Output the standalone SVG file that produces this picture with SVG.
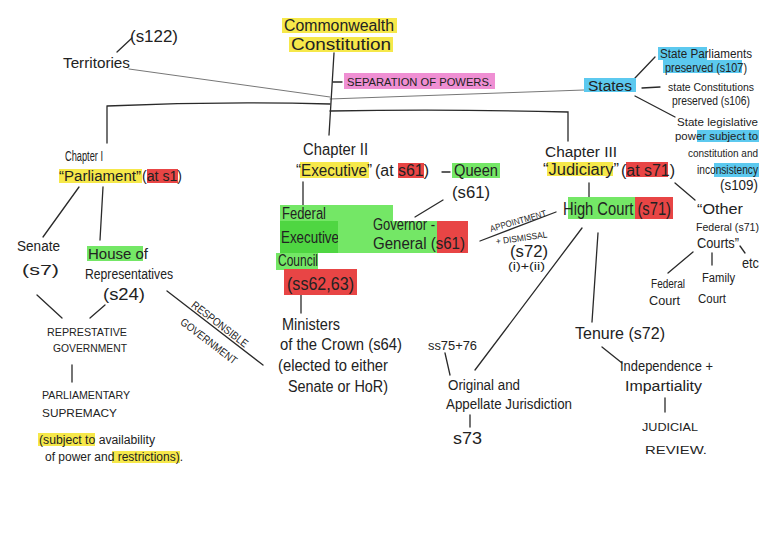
<svg xmlns="http://www.w3.org/2000/svg" width="768" height="542" viewBox="0 0 768 542">
<style>
.t{font-family:"Liberation Sans",Arial,sans-serif;font-size:14px;fill:#222}
.s{font-size:12px}
.c{font-size:11px}
.b{font-size:16px}
.hy{fill:#f6e84a}
.hr{fill:#e84545}
.hg{fill:#74e766}
.hd{fill:#4fd642}
.hb{fill:#5cc9ef}
.hp{fill:#ef8fd3}
#connectors path{fill:none;stroke:#2a2a2a;stroke-width:1.3;stroke-linecap:round}
#connectors path.f{stroke:#777;stroke-width:1}
</style>
<rect width="768" height="542" fill="#fff"/>
<g id="connectors">
<path d="M117,52 L132,38"/>
<path class="f" d="M129,69 L330,97"/>
<path class="f" d="M330,99 L584,90"/>
<path d="M334,53 L329,135"/>
<path d="M333,82 L342,82"/>
<path d="M107,143 L107,106 Q220,101 330,104"/>
<path d="M330,111 Q450,109 568,112 L568,141"/>
<path d="M635,78 L655,57"/>
<path d="M642,88 L660,87"/>
<path d="M635,96 L675,117"/>
<path d="M79,187 L43,237"/>
<path d="M103,187 L100,240"/>
<path d="M37,295 L62,318"/>
<path d="M105,305 L90,318"/>
<path d="M72,365 L72,382"/>
<path d="M167,291 L263,365"/>
<path d="M303,182 L303,208"/>
<path d="M442,172 L450,172"/>
<path d="M443,200 L415,217"/>
<path d="M340,246 L367,246"/>
<path d="M301,295 L301,313"/>
<path d="M589,183 L589,200"/>
<path d="M675,183 L695,200"/>
<path d="M480,241 L556,212"/>
<path d="M582,228 L475,370"/>
<path d="M598,233 L592,322"/>
<path d="M445,353 L450,375"/>
<path d="M470,415 L470,427"/>
<path d="M602,347 L622,363"/>
<path d="M665,398 L665,412"/>
<path d="M693,252 L668,273"/>
<path d="M712,253 L712,265"/>
<path d="M740,246 L745,253"/>
</g>
<g id="constitution">
<rect class="hy" x="282" y="18" width="115" height="15"/>
<rect class="hy" x="289" y="37" width="104" height="15"/>
<text class="t b" x="284" y="31" textLength="110" lengthAdjust="spacingAndGlyphs">Commonwealth</text>
<text class="t b" x="291" y="50" textLength="100" lengthAdjust="spacingAndGlyphs">Constitution</text>
</g>
<g id="separation">
<rect class="hp" x="344" y="73" width="151" height="16"/>
<text class="t c" x="347" y="86" textLength="145" lengthAdjust="spacingAndGlyphs">SEPARATION OF POWERS.</text>
</g>
<g id="territories">
<text class="t" x="63" y="68" textLength="67" lengthAdjust="spacingAndGlyphs">Territories</text>
<text class="t b" x="130" y="42" textLength="48" lengthAdjust="spacingAndGlyphs">(s122)</text>
</g>
<g id="states">
<rect class="hb" x="584" y="78" width="52" height="14"/>
<text class="t" x="588" y="91" textLength="44" lengthAdjust="spacingAndGlyphs">States</text>
</g>
<g id="state-parliaments">
<rect class="hb" x="658" y="47" width="49" height="13"/>
<rect class="hb" x="663" y="60" width="79" height="13"/>
<text class="t s" x="660" y="58" textLength="92" lengthAdjust="spacingAndGlyphs">State Parliaments</text>
<text class="t s" x="665" y="72" textLength="82" lengthAdjust="spacingAndGlyphs">preserved (s107)</text>
</g>
<g id="state-constitutions">
<text class="t" x="668" y="91" style="font-size:11.5px" textLength="86" lengthAdjust="spacingAndGlyphs">state Constitutions</text>
<text class="t s" x="672" y="105" textLength="78" lengthAdjust="spacingAndGlyphs">preserved (s106)</text>
</g>
<g id="state-legislative">
<rect class="hb" x="697" y="130" width="62" height="12"/>
<rect class="hb" x="714" y="163" width="45" height="14"/>
<text class="t" x="677" y="126" style="font-size:11.5px" textLength="81" lengthAdjust="spacingAndGlyphs">State legislative</text>
<text class="t" x="675" y="140" style="font-size:11.5px" textLength="83" lengthAdjust="spacingAndGlyphs">power subject to</text>
<text class="t" x="688" y="157" style="font-size:10.5px" textLength="70" lengthAdjust="spacingAndGlyphs">constitution and</text>
<text class="t s" x="697" y="174" textLength="61" lengthAdjust="spacingAndGlyphs">inconsistency</text>
<text class="t" x="720" y="190" textLength="38" lengthAdjust="spacingAndGlyphs">(s109)</text>
</g>
<g id="chapter1">
<rect class="hy" x="59" y="169" width="83" height="14"/>
<rect class="hr" x="147" y="169" width="31" height="14"/>
<text class="t" x="65" y="161" textLength="38" lengthAdjust="spacingAndGlyphs">Chapter I</text>
<text class="t" x="59" y="181" textLength="82" lengthAdjust="spacingAndGlyphs">“Parliament”</text>
<text class="t" x="142" y="181" textLength="40" lengthAdjust="spacingAndGlyphs">(at s1)</text>
</g>
<g id="senate">
<text class="t" x="17" y="251" textLength="43" lengthAdjust="spacingAndGlyphs">Senate</text>
<text class="t" x="22" y="275" textLength="37" lengthAdjust="spacingAndGlyphs">(s7)</text>
</g>
<g id="house">
<rect class="hg" x="87" y="246" width="56" height="15"/>
<text class="t" x="88" y="259" textLength="60" lengthAdjust="spacingAndGlyphs">House of</text>
<text class="t" x="85" y="279" textLength="88" lengthAdjust="spacingAndGlyphs">Representatives</text>
<text class="t b" x="103" y="300" textLength="42" lengthAdjust="spacingAndGlyphs">(s24)</text>
</g>
<g id="representative-government">
<text class="t c" x="47" y="336" textLength="80" lengthAdjust="spacingAndGlyphs">REPRESTATIVE</text>
<text class="t c" x="53" y="352" textLength="74" lengthAdjust="spacingAndGlyphs">GOVERNMENT</text>
</g>
<g id="parliamentary-supremacy">
<rect class="hy" x="38" y="433" width="57" height="13"/>
<rect class="hy" x="112" y="451" width="68" height="12"/>
<text class="t c" x="42" y="399" textLength="88" lengthAdjust="spacingAndGlyphs">PARLIAMENTARY</text>
<text class="t c" x="42" y="417" textLength="75" lengthAdjust="spacingAndGlyphs">SUPREMACY</text>
<text class="t s" x="39" y="444" textLength="116" lengthAdjust="spacingAndGlyphs">(subject to availability</text>
<text class="t s" x="45" y="461" textLength="138" lengthAdjust="spacingAndGlyphs">of power and restrictions).</text>
</g>
<g id="responsible-government">
<text class="t c" text-anchor="middle" transform="translate(220,324) rotate(37.6)" y="4" textLength="68" lengthAdjust="spacingAndGlyphs">RESPONSIBLE</text>
<text class="t c" text-anchor="middle" transform="translate(209,341) rotate(37.6)" y="4" textLength="68" lengthAdjust="spacingAndGlyphs">GOVERNMENT</text>
</g>
<g id="chapter2">
<rect class="hy" x="300" y="162" width="69" height="16"/>
<rect class="hr" x="398" y="163" width="26" height="15"/>
<text class="t b" x="303" y="155" textLength="65" lengthAdjust="spacingAndGlyphs">Chapter II</text>
<text class="t b" x="296" y="176" textLength="76" lengthAdjust="spacingAndGlyphs">“Executive”</text>
<text class="t b" x="375" y="176" textLength="54" lengthAdjust="spacingAndGlyphs">(at s61)</text>
</g>
<g id="queen">
<rect class="hg" x="452" y="163" width="48" height="15"/>
<text class="t b" x="454" y="176" textLength="44" lengthAdjust="spacingAndGlyphs">Queen</text>
<text class="t b" x="452" y="198" textLength="38" lengthAdjust="spacingAndGlyphs">(s61)</text>
</g>
<g id="federal-executive-council">
<rect class="hg" x="280" y="205" width="113" height="16"/>
<rect class="hd" x="280" y="221" width="58" height="32"/>
<rect class="hg" x="276" y="253" width="42" height="17"/>
<rect class="hr" x="284" y="269" width="73" height="26"/>
<text class="t b" x="282" y="219" textLength="44" lengthAdjust="spacingAndGlyphs">Federal</text>
<text class="t b" x="281" y="243" textLength="58" lengthAdjust="spacingAndGlyphs">Executive</text>
<text class="t b" x="278" y="266" textLength="40" lengthAdjust="spacingAndGlyphs">Council</text>
<text class="t" x="287" y="290" style="font-size:18px" textLength="67" lengthAdjust="spacingAndGlyphs">(ss62,63)</text>
</g>
<g id="governor-general">
<rect class="hg" x="338" y="221" width="99" height="32"/>
<rect class="hr" x="437" y="221" width="31" height="32"/>
<text class="t b" x="373" y="230" textLength="62" lengthAdjust="spacingAndGlyphs">Governor -</text>
<text class="t b" x="373" y="249" textLength="92" lengthAdjust="spacingAndGlyphs">General (s61)</text>
</g>
<g id="ministers">
<text class="t b" x="282" y="330" textLength="58" lengthAdjust="spacingAndGlyphs">Ministers</text>
<text class="t b" x="280" y="350" textLength="122" lengthAdjust="spacingAndGlyphs">of the Crown (s64)</text>
<text class="t b" x="278" y="371" textLength="110" lengthAdjust="spacingAndGlyphs">(elected to either</text>
<text class="t b" x="288" y="392" textLength="100" lengthAdjust="spacingAndGlyphs">Senate or HoR)</text>
</g>
<g id="chapter3">
<rect class="hy" x="547" y="162" width="66" height="14"/>
<rect class="hr" x="626" y="162" width="42" height="15"/>
<text class="t" x="545" y="157" textLength="72" lengthAdjust="spacingAndGlyphs">Chapter III</text>
<text class="t b" x="543" y="175" textLength="76" lengthAdjust="spacingAndGlyphs">“Judiciary”</text>
<text class="t b" x="621" y="176" textLength="54" lengthAdjust="spacingAndGlyphs">(at s71)</text>
</g>
<g id="high-court">
<rect class="hg" x="568" y="197" width="67" height="22"/>
<rect class="hr" x="635" y="197" width="38" height="22"/>
<text class="t" x="563" y="215" style="font-size:18px" textLength="108" lengthAdjust="spacingAndGlyphs">High Court (s71)</text>
</g>
<g id="other-federal-courts">
<text class="t" x="697" y="214" textLength="46" lengthAdjust="spacingAndGlyphs">“Other</text>
<text class="t" x="696" y="231" style="font-size:11px" textLength="63" lengthAdjust="spacingAndGlyphs">Federal (s71)</text>
<text class="t" x="697" y="248" textLength="42" lengthAdjust="spacingAndGlyphs">Courts”</text>
</g>
<g id="federal-court">
<text class="t s" x="651" y="288" textLength="34" lengthAdjust="spacingAndGlyphs">Federal</text>
<text class="t s" x="649" y="305" textLength="31" lengthAdjust="spacingAndGlyphs">Court</text>
</g>
<g id="family-court">
<text class="t s" x="702" y="282" textLength="33" lengthAdjust="spacingAndGlyphs">Family</text>
<text class="t s" x="698" y="303" textLength="28" lengthAdjust="spacingAndGlyphs">Court</text>
</g>
<g id="etc">
<text class="t" x="742" y="268" textLength="17" lengthAdjust="spacingAndGlyphs">etc</text>
</g>
<g id="appointment">
<text class="t" style="font-size:9px" text-anchor="middle" transform="translate(519,224) rotate(-16)" textLength="58" lengthAdjust="spacingAndGlyphs">APPOINTMENT</text>
<text class="t" style="font-size:9px" text-anchor="middle" transform="translate(522,241) rotate(-8)" textLength="52" lengthAdjust="spacingAndGlyphs">+ DISMISSAL</text>
<text class="t b" x="510" y="257" textLength="38" lengthAdjust="spacingAndGlyphs">(s72)</text>
<text class="t c" x="508" y="270" textLength="37" lengthAdjust="spacingAndGlyphs">(i)+(ii)</text>
</g>
<g id="ss75-76">
<text class="t s" x="428" y="350" textLength="49" lengthAdjust="spacingAndGlyphs">ss75+76</text>
</g>
<g id="jurisdiction">
<text class="t" x="448" y="390" textLength="72" lengthAdjust="spacingAndGlyphs">Original and</text>
<text class="t" x="446" y="409" textLength="126" lengthAdjust="spacingAndGlyphs">Appellate Jurisdiction</text>
<text class="t b" x="453" y="444" textLength="29" lengthAdjust="spacingAndGlyphs">s73</text>
</g>
<g id="tenure">
<text class="t b" x="575" y="339" textLength="90" lengthAdjust="spacingAndGlyphs">Tenure (s72)</text>
</g>
<g id="independence">
<text class="t" x="620" y="371" textLength="93" lengthAdjust="spacingAndGlyphs">Independence +</text>
<text class="t" x="625" y="391" textLength="77" lengthAdjust="spacingAndGlyphs">Impartiality</text>
</g>
<g id="judicial-review">
<text class="t c" x="642" y="431" textLength="56" lengthAdjust="spacingAndGlyphs">JUDICIAL</text>
<text class="t c" x="645" y="454" textLength="62" lengthAdjust="spacingAndGlyphs">REVIEW.</text>
</g>
</svg>
